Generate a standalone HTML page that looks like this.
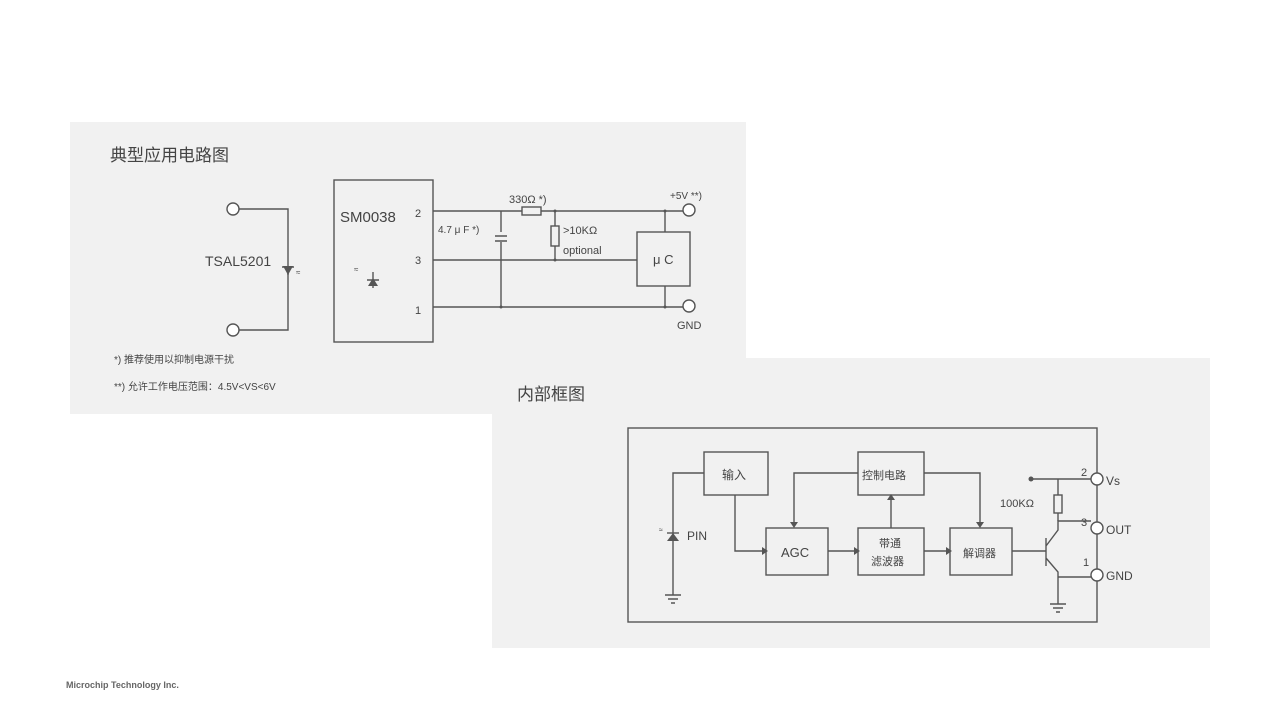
<!DOCTYPE html>
<html><head><meta charset="utf-8"><style>
html,body{margin:0;padding:0;background:#fff;width:1280px;height:720px;overflow:hidden}
svg{position:absolute;left:0;top:0}
text{font-family:"Liberation Sans","Noto Sans CJK SC",sans-serif;fill:#444}
</style></head><body>
<svg width="1280" height="720" viewBox="0 0 1280 720">
<rect x="70" y="122" width="676" height="292" fill="#f1f1f1"/>
<rect x="492" y="358" width="718" height="290" fill="#f1f1f1"/>
<g stroke="#555" stroke-width="1.4" fill="none">
<!-- top circuit -->
<circle cx="233" cy="209" r="6" fill="#fff"/><circle cx="233" cy="330" r="6" fill="#fff"/>
<path d="M239 209H288V330H239"/>
<rect x="334" y="180" width="99" height="162"/>
<path d="M433 211H683M433 260H637M433 307H683"/>
<circle cx="689" cy="210" r="6" fill="#fff"/><circle cx="689" cy="306" r="6" fill="#fff"/>
<rect x="637" y="232" width="53" height="54"/>
<path d="M665 211V232M665 286V307"/>
<path d="M501 211V232M501 242V307"/><path d="M495 236H507M495 241H507"/>
<rect x="522" y="207" width="19" height="8" fill="#f1f1f1"/>
<path d="M555 211V226M555 246V260"/><rect x="551" y="226" width="8" height="20" fill="#f1f1f1"/>
<path d="M282 267H294M288 267V275"/>
<path d="M367 280H379M373 272V288"/>
<!-- bottom block diagram -->
<rect x="628" y="428" width="469" height="194"/>
<rect x="704" y="452" width="64" height="43"/>
<rect x="858" y="452" width="66" height="43"/>
<rect x="766" y="528" width="62" height="47"/>
<rect x="858" y="528" width="66" height="47"/>
<rect x="950" y="528" width="62" height="47"/>
<path d="M704 473H673V595"/>
<path d="M665 595H681M668 599H678M671 603H675"/>
<path d="M667 533H679"/>
<path d="M735 495V551H762"/>
<path d="M858 473H794V524"/>
<path d="M924 473H980V524"/>
<path d="M891 528V499"/>
<path d="M828 551H854M924 551H946"/>
<path d="M1012 551H1046M1046 538V566M1046 546L1058 530V521H1091M1046 558L1058 572V577H1091M1058 577V604"/>
<path d="M1050 604H1066M1053 608H1063M1056 612H1060"/>
<path d="M1031 479H1091M1058 479V495M1058 513V521"/>
<rect x="1054" y="495" width="8" height="18" fill="#f1f1f1"/>
<circle cx="1097" cy="479" r="6" fill="#fff"/><circle cx="1097" cy="528" r="6" fill="#fff"/><circle cx="1097" cy="575" r="6" fill="#fff"/>
</g>
<g fill="#555">
<path d="M283 266L293 266L288 275Z"/><path d="M368 286L378 286L373 278Z"/>
<path d="M667 541L679 541L673 533Z"/>
<path d="M762 547L768 551L762 555Z"/><path d="M854 547L860 551L854 555Z"/><path d="M946 547L952 551L946 555Z"/>
<path d="M790 522L794 528L798 522Z"/><path d="M976 522L980 528L984 522Z"/><path d="M887 500L891 494L895 500Z"/>
<circle cx="1031" cy="479" r="2.5"/><circle cx="555" cy="211" r="1.5"/><circle cx="555" cy="260" r="1.5"/><circle cx="501" cy="307" r="1.5"/><circle cx="665" cy="211" r="1.5"/><circle cx="665" cy="307" r="1.5"/>
</g>
<text x="110" y="161" font-size="17">典型应用电路图</text>
<text x="205" y="266" font-size="14">TSAL5201</text>
<text x="296" y="275" font-size="8">≈</text>
<text x="354" y="272" font-size="8">≈</text>
<text x="340" y="222" font-size="15">SM0038</text>
<text x="415" y="217" font-size="11">2</text><text x="415" y="264" font-size="11">3</text><text x="415" y="314" font-size="11">1</text>
<text x="438" y="233" font-size="10">4.7 μ F *)</text>
<text x="509" y="203" font-size="11">330Ω  *)</text>
<text x="563" y="234" font-size="11">&gt;10KΩ</text>
<text x="563" y="254" font-size="11">optional</text>
<text x="653" y="264" font-size="13">μ C</text>
<text x="670" y="199" font-size="10">+5V **)</text>
<text x="677" y="329" font-size="11">GND</text>
<text x="114" y="363" font-size="10">*) 推荐使用以抑制电源干扰</text>
<text x="114" y="390" font-size="10">**) 允许工作电压范围：4.5V&lt;VS&lt;6V</text>
<text x="517" y="400" font-size="17">内部框图</text>
<text x="722" y="479" font-size="12">输入</text>
<text x="862" y="479" font-size="11">控制电路</text>
<text x="781" y="557" font-size="13">AGC</text>
<text x="879" y="547" font-size="11">带通</text><text x="871" y="565" font-size="11">滤波器</text>
<text x="963" y="557" font-size="11">解调器</text>
<text x="687" y="540" font-size="12">PIN</text>
<text x="659" y="532" font-size="7">≈</text>
<text x="1000" y="507" font-size="11">100KΩ</text>
<text x="1081" y="476" font-size="11">2</text><text x="1081" y="526" font-size="11">3</text><text x="1083" y="566" font-size="11">1</text>
<text x="1106" y="485" font-size="12">Vs</text><text x="1106" y="534" font-size="12">OUT</text><text x="1106" y="580" font-size="12">GND</text>
<text x="66" y="688" font-size="9" font-weight="bold" style="fill:#666">Microchip Technology Inc.</text>
</svg>
</body></html>
